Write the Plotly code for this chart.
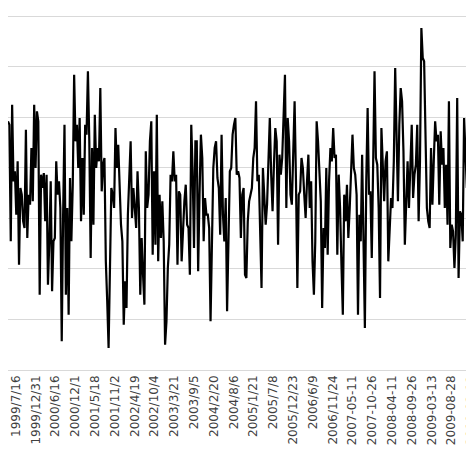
import plotly.graph_objects as go

# weekly series (arbitrary units, grid step ~151.7)
values_a = [746,736,386,796,566,596,466,626,316,546,526,446,426,721,396,526,496,666,506,796,606,776,746,226,586,546,591,446,586,256,
            386,566,236,386,396,626,526,566,486,86,466,736,226,486,166,576,386,556,886,686,736,606,756,446,636,466,736,706,896,686,
            336,666,436,766,606,666,626,846,536,616,636,326,206,66,306,546,526,486,726,606,676,556,436,386,136,266,186,466,606,686,
            456,546,486,426,596,486,226,396,286,196,656,486,526,686,746,346,596,376,766,326,526,396,506,386,76,146,306,376,586,566,
            656,566,586,316,536,526,326,446,506,556,436,426,286,736,596,366,686,686,296,526,706,636,386,516,466,466,426,146,386,606,
            666,686,576,546,406,706,466,386,516,176,386,596,606,706,736,756,586,596,576]
values_b = [396,526,546,286,276,446,506,526,546,636,666,806,566,586,406,246,606,526,436,496,656,756,586,476,616,726,686,376,646,586,
            636,786,886,486,756,686,526,496,706,806,566,246,526,536,636,606,526,456,566,646,486,566,326,226,386,746,686,576,506,186,
            426,366,606,346,566,666,626,726,636,646,346,586,486,316,166,526,446,556,396,486,586,706,606,586,526,166,466,386,646,386,
            126,566,786,526,536,336,666,896,636,616,486,216,726,636,506,626,656,326,426,516,486,626,906,706,506,736,846,806,656,376,
            496,626,486,626,736,516,586,616,736,446,626,1026,936,926,706,486,446,426,666,496,626,746,686,706,496,716,616,666,486,616,
            436,806,366,436,416,306,406,816,276,476,466,386,756,636,546,646,566,716,586,516,606,586,526,406,426,316]
values = values_a + values_b

tick_labels = ['1999/7/16', '1999/12/31', '2000/6/16', '2000/12/1', '2001/5/18', '2001/11/2',
               '2002/4/19', '2002/10/4', '2003/3/21', '2003/9/5', '2004/2/20', '2004/8/6',
               '2005/1/21', '2005/7/8', '2005/12/23', '2006/6/9', '2006/11/24', '2007-05-11',
               '2007-10-26', '2008-04-11', '2008-09-26', '2009-03-13', '2009-08-28', '2010-02-12']

n = len(values)
x = list(range(n))
per_px = (n - 1) / 474
tickvals = [(8 + 19.8 * i) * per_px for i in range(len(tick_labels))]

fig = go.Figure(go.Scatter(x=x, y=values, mode='lines', line=dict(color='black', width=2.2)))
fig.update_layout(
    width=474, height=474, margin=dict(l=0, r=0, t=0, b=110),
    plot_bgcolor='white', paper_bgcolor='white', showlegend=False,
    font=dict(family='DejaVu Sans', color='#404040', size=12),
)
fig.update_xaxes(range=[0, n - 1], tickvals=tickvals, ticktext=tick_labels, tickangle=-90,
                 showgrid=False, ticks='', zeroline=False)
fig.update_yaxes(range=[-6, 1086], dtick=1062 / 7, showticklabels=False, gridcolor='#d9d9d9',
                 gridwidth=1, zeroline=False)
fig.write_html("out.html")
